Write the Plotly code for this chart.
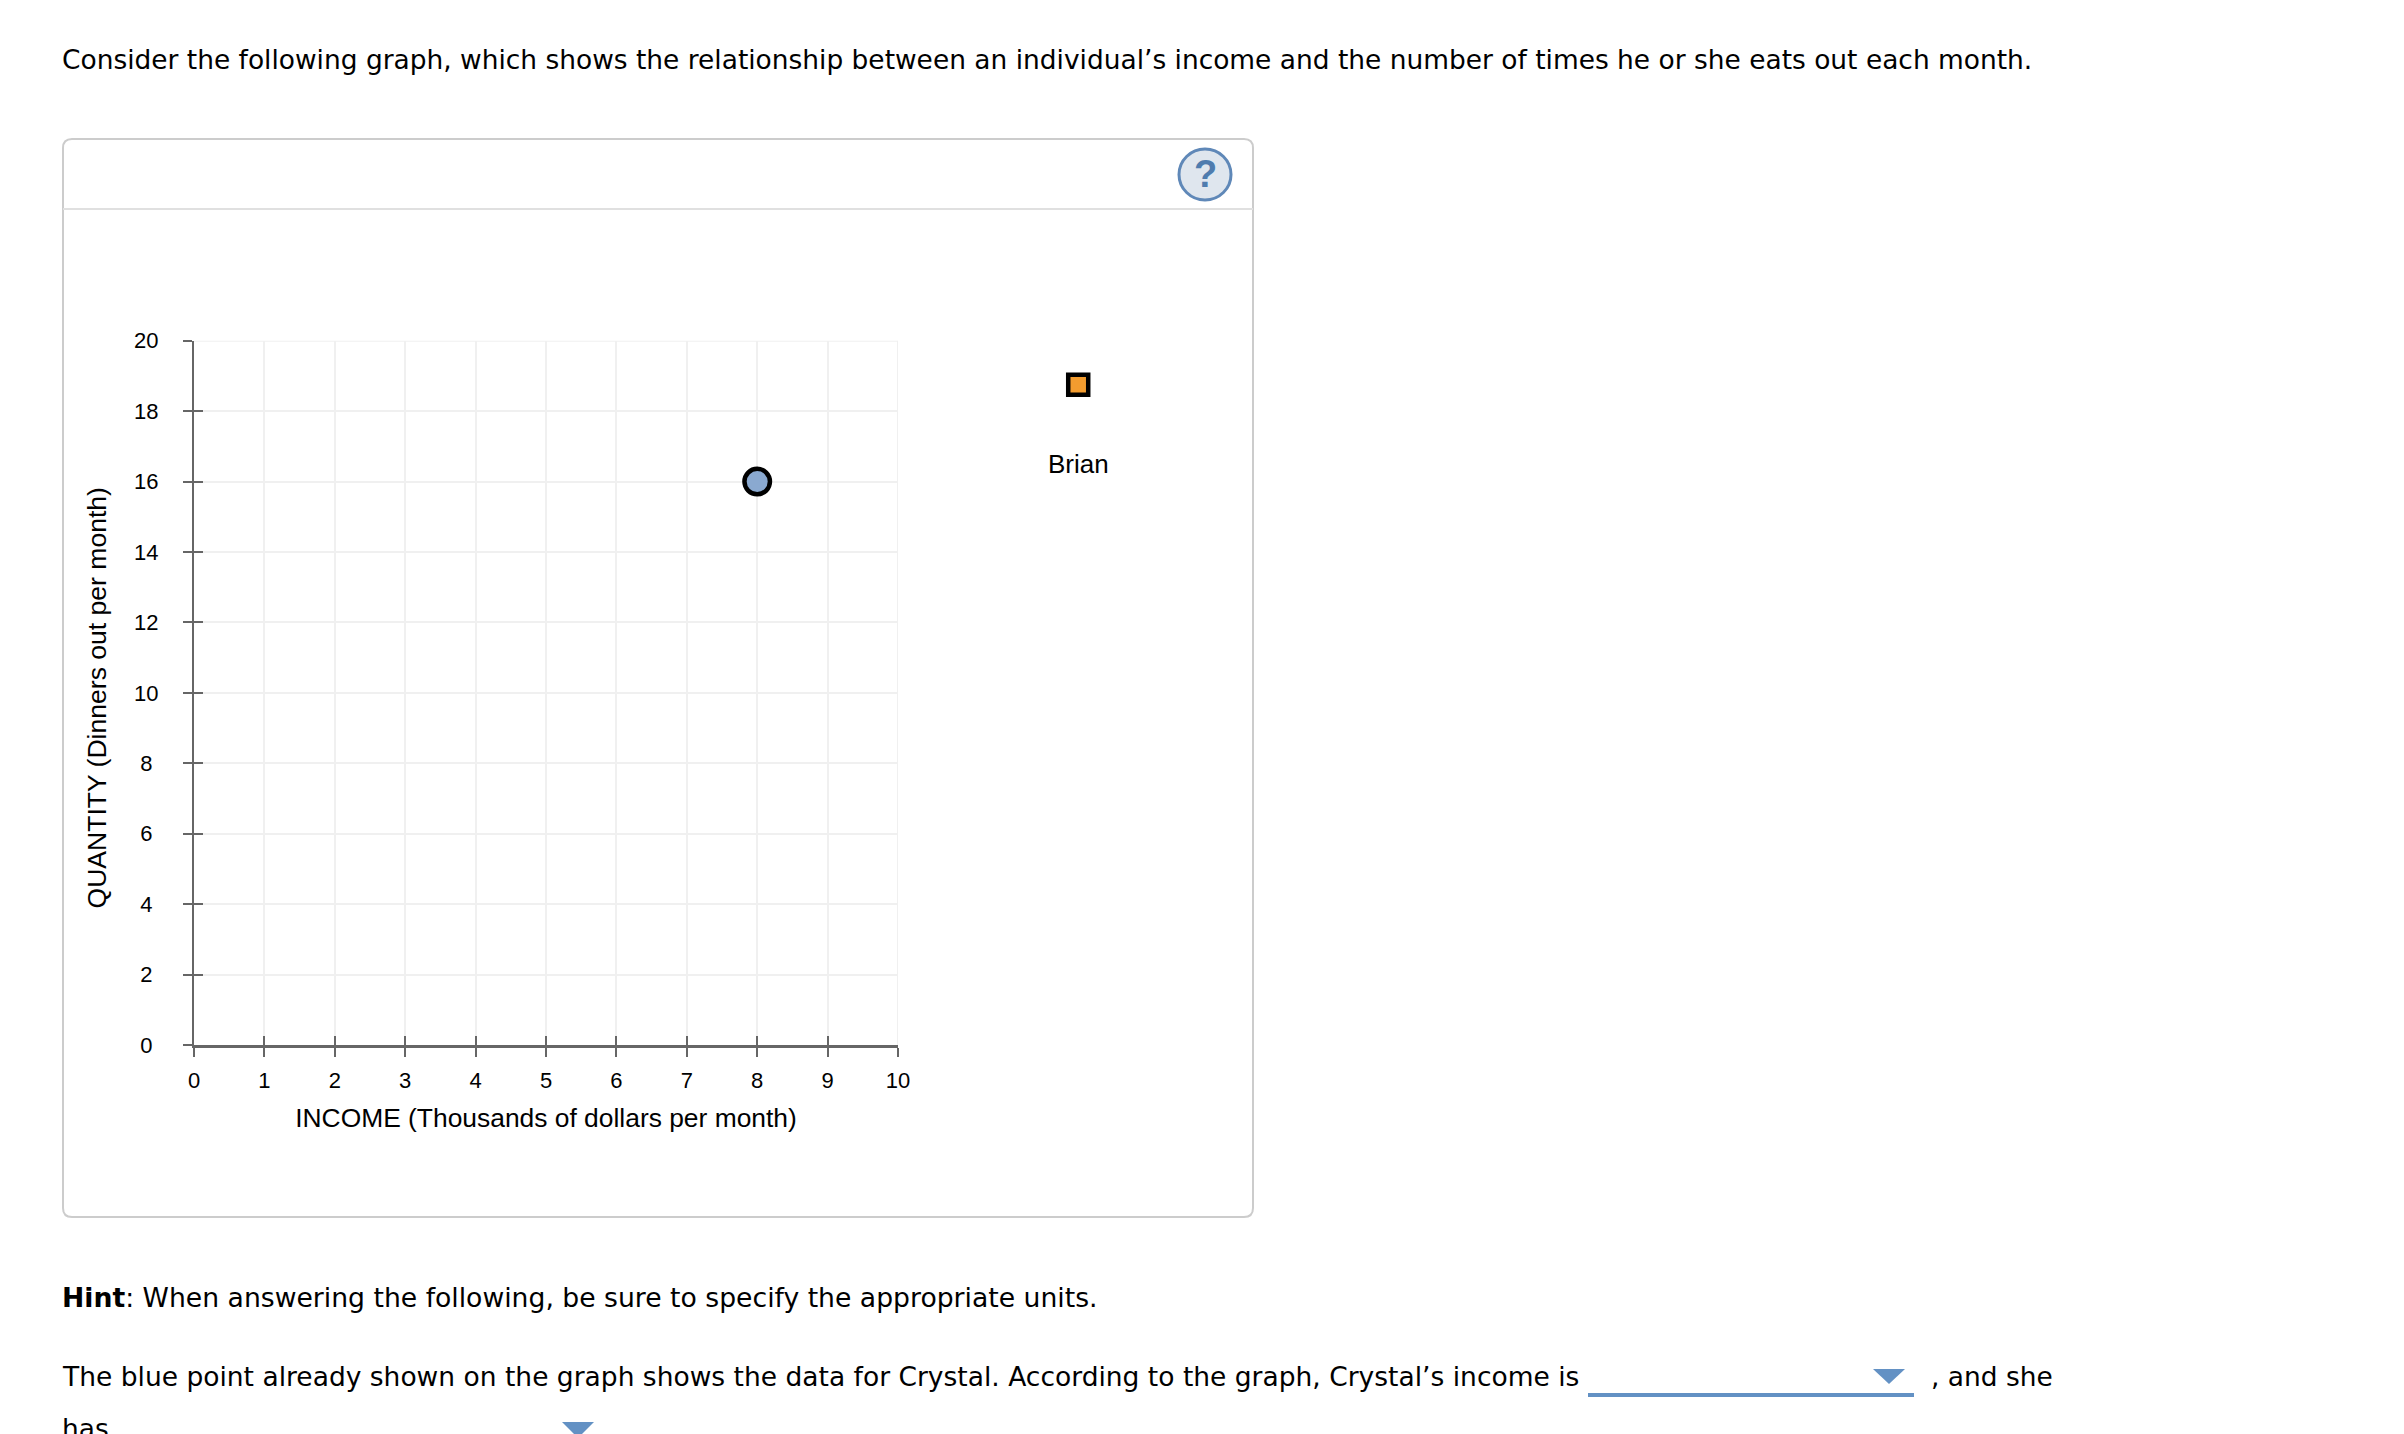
import plotly.graph_objects as go

# --- data -------------------------------------------------------------
income_ticks = [0, 1, 2, 3, 4, 5, 6, 7, 8, 9, 10]
quantity_ticks = [0, 2, 4, 6, 8, 10, 12, 14, 16, 18, 20]
crystal_income = [8]
crystal_quantity = [16]
brian_palette_x = [12.56]
brian_palette_y = [18.75]
brian_label = "Brian"
x_title = "INCOME (Thousands of dollars per month)"
y_title = "QUANTITY (Dinners out per month)"
intro = "Consider the following graph, which shows the relationship between an individual’s income and the number of times he or she eats out each month."
hint = "<b>Hint</b>: When answering the following, be sure to specify the appropriate units."
question_a = "The blue point already shown on the graph shows the data for Crystal. According to the graph, Crystal’s income is"
question_b = ", and she"
question_c = "has"

W, H = 2404, 1434
AXIS = "#666666"
GRID = "#f0f0f0"
SANS = "Liberation Sans, Arial, sans-serif"
VERD = "DejaVu Sans, Verdana, sans-serif"


def px(v):
    return v / W


def py(v):
    return 1 - v / H


def rounded(x0, y0, x1, y1, r):
    return (f"M{px(x0 + r)},{py(y0)} L{px(x1 - r)},{py(y0)} Q{px(x1)},{py(y0)} {px(x1)},{py(y0 + r)} "
            f"L{px(x1)},{py(y1 - r)} Q{px(x1)},{py(y1)} {px(x1 - r)},{py(y1)} "
            f"L{px(x0 + r)},{py(y1)} Q{px(x0)},{py(y1)} {px(x0)},{py(y1 - r)} "
            f"L{px(x0)},{py(y0 + r)} Q{px(x0)},{py(y0)} {px(x0 + r)},{py(y0)} Z")


def triangle(cx, top, bottom, half):
    return f"M{px(cx - half)},{py(top)} L{px(cx + half)},{py(top)} L{px(cx)},{py(bottom)} Z"


fig = go.Figure()
fig.add_trace(go.Scatter(
    x=crystal_income, y=crystal_quantity, mode="markers", cliponaxis=False, showlegend=False,
    marker=dict(symbol="circle", size=25.5, color="#8aa9d0", line=dict(color="#000000", width=4.5)),
))
# Empty trace that brings the overlay axes (inner half of the crossing ticks) into the figure.
fig.add_trace(go.Scatter(x=[], y=[], xaxis="x2", yaxis="y2", showlegend=False))
# The palette marker sits on axes of the same scale, extended to the panel's right edge.
fig.add_trace(go.Scatter(
    x=brian_palette_x, y=brian_palette_y, mode="markers", cliponaxis=False, showlegend=False,
    xaxis="x3", yaxis="y3",
    marker=dict(symbol="square", size=20, color="#f39c2f", line=dict(color="#000000", width=4.5)),
))

PLOT_L, PLOT_R, PLOT_T, PLOT_B = 194, 898, 340.7, 1045
PANEL_R = 1253
x_dom = [px(PLOT_L), px(PLOT_R)]
y_dom = [py(PLOT_B), py(PLOT_T)]

fig.update_layout(
    width=W, height=H, margin=dict(l=0, r=0, t=0, b=0, autoexpand=False),
    paper_bgcolor="white", plot_bgcolor="rgba(0,0,0,0)", showlegend=False,
    xaxis=dict(
        domain=x_dom, range=[0, 10], tickmode="array", tickvals=income_ticks,
        ticktext=[str(v) for v in income_ticks], ticks="outside", ticklen=9, tickwidth=2, tickcolor=AXIS,
        showline=True, linecolor=AXIS, linewidth=2.5, showgrid=True, gridcolor=GRID, gridwidth=2,
        zeroline=False, tickfont=dict(family=SANS, size=22, color="#000000"), ticklabelstandoff=5,
        title=dict(text=x_title, font=dict(family=SANS, size=26.4, color="#000000"), standoff=17),
    ),
    yaxis=dict(
        domain=y_dom, range=[0, 20], tickmode="array", tickvals=quantity_ticks,
        ticktext=[f"{v}\u00a0" if v < 10 else str(v) for v in quantity_ticks],
        ticks="outside", ticklen=9, tickwidth=2, tickcolor=AXIS,
        showline=True, linecolor=AXIS, linewidth=2, showgrid=True, gridcolor=GRID, gridwidth=2,
        zeroline=False, tickfont=dict(family=SANS, size=22, color="#000000"), ticklabelstandoff=20,
    ),
    xaxis2=dict(
        domain=x_dom, range=[0, 10], overlaying="x", anchor="y2", tickmode="array", tickvals=income_ticks,
        ticks="inside", ticklen=9, tickwidth=2, tickcolor=AXIS, showticklabels=False,
        showgrid=False, zeroline=False, showline=False,
    ),
    yaxis2=dict(
        domain=y_dom, range=[0, 20], overlaying="y", anchor="x2", tickmode="array", tickvals=quantity_ticks,
        ticks="inside", ticklen=9, tickwidth=2, tickcolor=AXIS, showticklabels=False,
        showgrid=False, zeroline=False, showline=False,
    ),
    xaxis3=dict(
        domain=[px(PLOT_L), px(PANEL_R)], range=[0, 10 * (PANEL_R - PLOT_L) / (PLOT_R - PLOT_L)],
        anchor="y3", visible=False,
    ),
    yaxis3=dict(domain=y_dom, range=[0, 20], anchor="x3", visible=False),
    shapes=[
        dict(type="path", xref="paper", yref="paper", path=rounded(63, 139, 1253, 1217, 9),
             line=dict(color="#cccccc", width=2), fillcolor="rgba(0,0,0,0)", layer="below"),
        dict(type="line", xref="paper", yref="paper", x0=px(63), x1=px(1253), y0=py(209), y1=py(209),
             line=dict(color="#e0e0e0", width=2), layer="below"),
        dict(type="circle", xref="paper", yref="paper", x0=px(1179), x1=px(1231), y0=py(149), y1=py(200),
             line=dict(color="#5f88b8", width=3), fillcolor="#dfe6ee", layer="below"),
        # Plotly drops gridlines at the end of the range: restore the two outer ones.
        dict(type="line", xref="x", yref="y", x0=income_ticks[-1], x1=income_ticks[-1],
             y0=quantity_ticks[0], y1=quantity_ticks[-1], line=dict(color=GRID, width=2), layer="below"),
        dict(type="line", xref="x", yref="y", x0=income_ticks[0], x1=income_ticks[-1],
             y0=quantity_ticks[-1], y1=quantity_ticks[-1], line=dict(color=GRID, width=2), layer="below"),
        dict(type="line", xref="paper", yref="paper", x0=px(1588), x1=px(1914), y0=py(1395), y1=py(1395),
             line=dict(color="#6391c4", width=4)),
        dict(type="path", xref="paper", yref="paper", path=triangle(1889, 1369, 1384, 16),
             line=dict(width=0), fillcolor="#6391c4"),
        dict(type="path", xref="paper", yref="paper", path=triangle(578, 1422, 1438, 16),
             line=dict(width=0), fillcolor="#6391c4"),
    ],
)


def note(text, x, y, family=VERD, size=26.45, color="#000000", xanchor="left", angle=0):
    fig.add_annotation(text=text, xref="paper", yref="paper", x=px(x), y=py(y), showarrow=False,
                       xanchor=xanchor, yanchor="middle", align="left", textangle=angle,
                       font=dict(family=family, size=size, color=color), borderpad=0)


note(intro, 61, 59.5)
note(hint, 61, 1297.5, size=26.65)
note(question_a, 61, 1376.5, size=26.5)
note(question_b, 1930, 1376.5)
note(question_c, 61, 1428.5)
note(brian_label, 1078, 464, family=SANS, size=26, xanchor="center")
note("<b>?</b>", 1205, 174, family=SANS, size=38, color="#4f7cae", xanchor="center")
note(y_title, 96, 698.5, family=SANS, size=26.55, xanchor="center", angle=-90)

fig.write_html("out.html", config=dict(displayModeBar=False),
               post_script="document.body.style.margin='0';document.body.style.overflow='hidden';")
